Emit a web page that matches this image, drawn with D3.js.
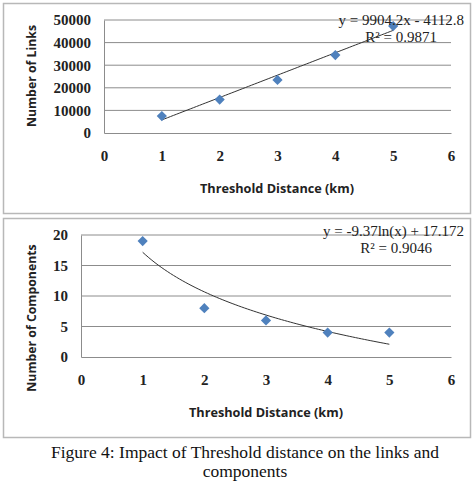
<!DOCTYPE html>
<html>
<head>
<meta charset="utf-8">
<script src="https://cdn.jsdelivr.net/npm/d3@7"></script>
<style>
  body { margin: 0; background: #fff; }
  svg { display: block; }
</style>
</head>
<body>
<script>
// Threshold distance (km) on the x axis for both panels
const distances = [1, 2, 3, 4, 5];

// Top panel: number of links
const links = [7500, 14800, 23500, 34500, 47300];
const linksTicks = [0, 10000, 20000, 30000, 40000, 50000];
const linksFit = { slope: 9904.2, intercept: -4112.8 };
const linksLabels = ["y = 9904.2x - 4112.8", "R\u00b2 = 0.9871"];

// Bottom panel: number of components
const components = [19, 8, 6, 4, 4];
const compTicks = [0, 5, 10, 15, 20];
const compFit = { a: -9.37, b: 17.172 };
const compLabels = ["y = -9.37ln(x) + 17.172", "R\u00b2 = 0.9046"];

const xTicks = [0, 1, 2, 3, 4, 5, 6];

const width = 474, height = 483;
const svg = d3.select("body").append("svg")
  .attr("width", width)
  .attr("height", height);

const serif = "'Liberation Serif', 'Times New Roman', serif";
const sans = "'Open Sans', 'DejaVu Sans', sans-serif";
const blue = "#4f81bd";

function panel(opt) {
  const g = svg.append("g");

  // chart frame
  g.append("rect")
    .attr("x", opt.frame[0] + 0.5).attr("y", opt.frame[1] + 0.5)
    .attr("width", opt.frame[2]).attr("height", opt.frame[3])
    .attr("fill", "#fff").attr("stroke", "#b8b8b8").attr("stroke-width", 1.5);

  const x = d3.scaleLinear().domain([0, 6]).range([opt.left, 451]);
  const y = d3.scaleLinear().domain([0, opt.ymax]).range([opt.bottom, opt.top]);

  // horizontal gridlines
  g.append("g").selectAll("line")
    .data(opt.yTicks.filter(d => d > 0))
    .join("line")
    .attr("x1", x(0)).attr("x2", x(6))
    .attr("y1", d => y(d)).attr("y2", d => y(d))
    .attr("stroke", "#8c8c8c").attr("stroke-width", 1);

  // axes
  const yAxis = g.append("g")
    .attr("transform", `translate(${x(0)},0)`)
    .call(d3.axisLeft(y).tickValues(opt.yTicks).tickSize(0).tickPadding(13).tickFormat(d3.format("d")));
  const xAxis = g.append("g")
    .attr("transform", `translate(0,${y(0)})`)
    .call(d3.axisBottom(x).tickValues(xTicks).tickSize(0).tickPadding(17).tickFormat(d3.format("d")));
  [yAxis, xAxis].forEach(a => {
    a.select(".domain").attr("stroke", "#8c8c8c");
    a.selectAll("text")
      .attr("fill", "#222")
      .style("font-family", serif)
      .style("font-size", "15px")
      .style("font-weight", "bold");
  });

  // trend line
  const fitPts = d3.range(1, 5.001, 0.05);
  g.append("path")
    .datum(fitPts)
    .attr("fill", "none")
    .attr("stroke", "#333")
    .attr("stroke-width", 1)
    .attr("d", d3.line().x(d => x(d)).y(d => y(opt.fit(d))));

  // markers (square turned 45 degrees, as in the spreadsheet default)
  g.append("g").selectAll("path")
    .data(distances.map((d, i) => [d, opt.values[i]]))
    .join("path")
    .attr("transform", d => `translate(${x(d[0])},${y(d[1])}) rotate(45)`)
    .attr("d", d3.symbol().type(d3.symbolSquare).size(52))
    .attr("fill", blue);

  // axis titles
  g.append("text")
    .attr("x", opt.xTitle[0]).attr("y", opt.xTitle[1])
    .attr("text-anchor", "middle")
    .style("font-family", sans).style("font-size", "12.7px").style("font-weight", "bold")
    .attr("fill", "#222")
    .text("Threshold Distance (km)");
  g.append("text")
    .attr("transform", `translate(${opt.yTitle[0]},${opt.yTitle[1]}) rotate(-90)`)
    .attr("text-anchor", "middle")
    .style("font-family", sans).style("font-size", "12.3px").style("font-weight", "bold")
    .attr("fill", "#222")
    .text(opt.yLabel);

  // trendline equation
  g.append("text")
    .attr("x", 464).attr("y", opt.eqY)
    .attr("text-anchor", "end")
    .style("font-family", serif).style("font-size", "15px")
    .attr("fill", "#222")
    .text(opt.eq[0]);
  g.append("text")
    .attr("x", opt.r2X).attr("y", opt.eqY + 17)
    .attr("text-anchor", "end")
    .style("font-family", serif).style("font-size", "15px")
    .attr("fill", "#222")
    .text(opt.eq[1]);
}

panel({
  frame: [3, 3, 467, 210],
  left: 104, top: 20, bottom: 133, ymax: 50000,
  yTicks: linksTicks, values: links,
  fit: d => linksFit.slope * d + linksFit.intercept,
  yLabel: "Number of Links",
  xTitle: [277, 193], yTitle: [36, 76],
  eq: linksLabels, eqY: 25, r2X: 437
});

panel({
  frame: [3, 218, 467, 219],
  left: 81, top: 235, bottom: 357, ymax: 20,
  yTicks: compTicks, values: components,
  fit: d => compFit.a * Math.log(d) + compFit.b,
  yLabel: "Number of Components",
  xTitle: [266, 417], yTitle: [36, 318],
  eq: compLabels, eqY: 236, r2X: 432
});

// figure caption
const caption = ["Figure 4: Impact of Threshold distance on the links and", "components"];
svg.append("g").selectAll("text")
  .data(caption)
  .join("text")
  .attr("x", 245)
  .attr("y", (d, i) => 458 + i * 19)
  .attr("text-anchor", "middle")
  .style("font-family", serif)
  .style("font-size", "17.5px")
  .attr("fill", "#111")
  .text(d => d);
</script>
</body>
</html>
